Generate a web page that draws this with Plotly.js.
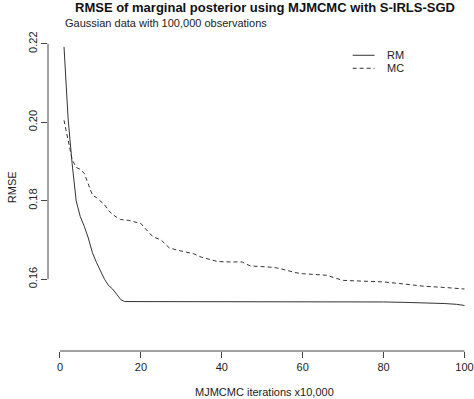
<!DOCTYPE html>
<html>
<head>
<meta charset="utf-8">
<script src="https://cdn.plot.ly/plotly-3.0.1.min.js"></script>
<style>html,body{margin:0;padding:0;background:#fff;}#chart{width:474px;height:399px;}</style>
</head>
<body>
<div id="chart"></div>
<script>
var xTicks = [0, 20, 40, 60, 80, 100];
var yTicks = [0.16, 0.18, 0.20, 0.22];
var yTickLabels = ["0.16", "0.18", "0.20", "0.22"];
var seriesNames = ["RM", "MC"];

var rmX = [1,2,3,4,5,6,7,8,9,10,11,12,13,14,15,16,20,40,60,80,85,90,95,98,100];
var rmY = [0.2192,0.2010,0.1895,0.1800,0.1760,0.1735,0.1705,0.1668,0.1643,0.1620,0.1600,0.1584,0.1575,0.1562,0.1548,0.1543,0.1543,0.1543,0.1543,0.1542,0.1541,0.1540,0.1538,0.1536,0.1533];

var mcX = [1,2,3,4,5,6,7,8,9,10,11,12,13,14,15,17,18,20,21,22,23,25,27,29,31,33,35,37,39,42,45,47,50,53,56,58,60,63,66,68,70,75,80,84,87,90,95,100];
var mcY = [0.2005,0.1950,0.1905,0.1885,0.1880,0.1870,0.1845,0.1815,0.1808,0.1800,0.1790,0.1775,0.1765,0.1758,0.1752,0.1750,0.1747,0.1742,0.1730,0.1718,0.1708,0.1700,0.1680,0.1674,0.1670,0.1665,0.1656,0.1650,0.1645,0.1644,0.1644,0.1634,0.1632,0.1630,0.1623,0.1617,0.1614,0.1612,0.1610,0.1603,0.1597,0.1595,0.1593,0.1589,0.1586,0.1582,0.1579,0.1575];

var font = "Liberation Sans, Arial, Helvetica, sans-serif";
var ink = "#222";
var lineInk = "#333";
var dashes = ["solid", "4px,3px"];

var traces = [
  {x: rmX, y: rmY, type: "scatter", mode: "lines", name: seriesNames[0],
   line: {color: lineInk, width: 1, dash: dashes[0]}},
  {x: mcX, y: mcY, type: "scatter", mode: "lines", name: seriesNames[1],
   line: {color: lineInk, width: 1, dash: dashes[1]}}
];

// hand-made legend (R style: short line keys, tight rows)
var legX0 = 0.7202, legX1 = 0.7721, legTextX = 0.7958;
var legY = [0.9329, 0.8919];
var legendShapes = seriesNames.map(function (n, i) {
  return {type: "line", xref: "paper", yref: "paper", x0: legX0, x1: legX1, y0: legY[i], y1: legY[i],
          line: {color: lineInk, width: 1, dash: dashes[i]}};
});
var legendTexts = seriesNames.map(function (n, i) {
  return {text: n, xref: "paper", yref: "paper", x: legTextX, y: legY[i],
          xanchor: "left", yanchor: "middle", showarrow: false,
          font: {family: font, size: 11, color: ink}};
});

var layout = {
  width: 474, height: 399,
  margin: {l: 48, r: 2.5, t: 33.7, b: 48},
  paper_bgcolor: "#fff", plot_bgcolor: "#fff",
  font: {family: font, size: 11, color: ink},
  title: {text: "<b>RMSE of marginal posterior using MJMCMC with S-IRLS-SGD</b>",
          font: {family: font, size: 13, color: "#111"},
          x: 0.559, xanchor: "center", xref: "container",
          y: 0.982, yanchor: "middle", yref: "container"},
  xaxis: {range: [-2.963, 101.6], tickvals: xTicks, ticktext: xTicks.map(String),
          ticks: "outside", ticklen: 6, tickwidth: 1, tickcolor: "#444",
          showline: false, showgrid: false, zeroline: false,
          tickfont: {family: font, size: 11, color: ink}},
  yaxis: {range: [0.1417, 0.2225], tickvals: yTicks, ticktext: yTickLabels,
          ticks: "outside", ticklen: 6, tickwidth: 1, tickcolor: "#444", tickangle: -90,
          showline: false, showgrid: false, zeroline: false,
          tickfont: {family: font, size: 11, color: ink}},
  shapes: [
    {type: "line", xref: "x", yref: "paper", x0: xTicks[0], x1: xTicks[xTicks.length-1], y0: 0, y1: 0,
     line: {color: "#444", width: 1}},
    {type: "line", xref: "paper", yref: "y", x0: 0, x1: 0, y0: yTicks[0], y1: yTicks[yTicks.length-1],
     line: {color: "#444", width: 1}}
  ].concat(legendShapes),
  showlegend: false,
  annotations: [
    {text: "Gaussian data with 100,000 observations", xref: "paper", yref: "paper",
     x: 0.0354, y: 1.0337, xanchor: "left", yanchor: "middle", showarrow: false,
     font: {family: font, size: 11, color: ink}},
    {text: "MJMCMC iterations x10,000", xref: "paper", yref: "paper",
     x: 0.5124, y: -0.1292, xanchor: "center", yanchor: "middle", showarrow: false,
     font: {family: font, size: 11, color: ink}},
    {text: "RMSE", xref: "paper", yref: "paper", textangle: -90,
     x: -0.085, y: 0.517, xanchor: "center", yanchor: "middle", showarrow: false,
     font: {family: font, size: 11, color: ink}}
  ].concat(legendTexts)
};

Plotly.newPlot("chart", traces, layout, {displayModeBar: false, staticPlot: true});
</script>
</body>
</html>
